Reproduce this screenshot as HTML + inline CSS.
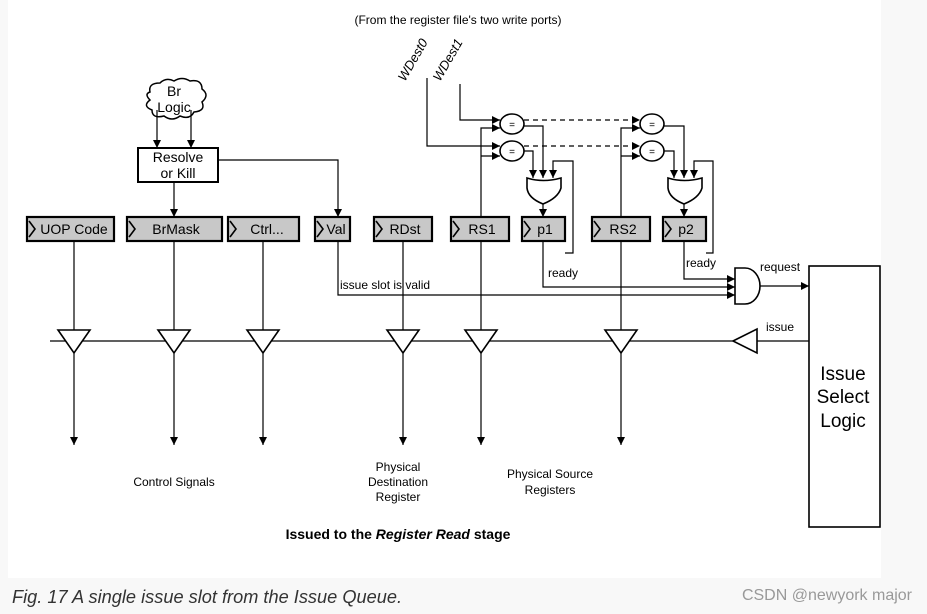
<!DOCTYPE html>
<html><head><style>
html,body{margin:0;padding:0;background:#f8f8f8;width:927px;height:614px;overflow:hidden}
svg{display:block}
text{font-family:"Liberation Sans",sans-serif;fill:#000}
</style></head><body>
<svg width="927" height="614" viewBox="0 0 927 614" xmlns="http://www.w3.org/2000/svg">
<defs>
<marker id="a" viewBox="0 0 10 10" refX="10" refY="5" markerWidth="8" markerHeight="8" orient="auto" markerUnits="userSpaceOnUse"><path d="M0,0L10,5L0,10z" fill="#000"/></marker>
</defs>
<rect x="8" y="0" width="873" height="578" fill="#fff"/>
<g stroke="#000" fill="none" stroke-width="1.2">
<!-- cloud -->
<path d="M150,92 q-2,-9 10,-9 q6,-6 14,-2 q8,-5 16,0 q12,-2 12,8 q8,6 0,13 q4,9 -8,10 q-4,8 -14,4 q-8,6 -16,0 q-12,3 -12,-6 q-10,-4 -2,-10 q-6,-6 0,-8z" stroke-width="1.5"/>
<line x1="157" y1="110" x2="157" y2="148" marker-end="url(#a)"/>
<line x1="191" y1="110" x2="191" y2="148" marker-end="url(#a)"/>
<rect x="138" y="148" width="80" height="34" stroke-width="2"/>
<line x1="174" y1="182" x2="174" y2="217" marker-end="url(#a)"/>
<polyline points="218,160 338,160 338,217" marker-end="url(#a)"/>
<!-- WDest lines -->
<polyline points="427,78 427,146 500,146" marker-end="url(#a)"/>
<polyline points="460,84 460,120 500,120" marker-end="url(#a)"/>
<polyline points="481,217 481,128 500,128" marker-end="url(#a)"/>
<polyline points="481,156 500,156" marker-end="url(#a)"/>
<polyline points="621,217 621,128 640,128" marker-end="url(#a)"/>
<polyline points="621,156 640,156" marker-end="url(#a)"/>
<line x1="524" y1="120" x2="640" y2="120" stroke-dasharray="5,4" marker-end="url(#a)"/>
<line x1="524" y1="146" x2="640" y2="146" stroke-dasharray="5,4" marker-end="url(#a)"/>
<ellipse cx="512" cy="124" rx="12" ry="10" stroke-width="1.6"/>
<ellipse cx="512" cy="151" rx="12" ry="10" stroke-width="1.6"/>
<ellipse cx="652" cy="124" rx="12" ry="10" stroke-width="1.6"/>
<ellipse cx="652" cy="151" rx="12" ry="10" stroke-width="1.6"/>
<!-- to OR -->
<polyline points="524,126 543,126 543,178" marker-end="url(#a)"/>
<polyline points="524,151 533,151 533,178" marker-end="url(#a)"/>
<polyline points="565,253 573,253 573,161 553,161 553,178" marker-end="url(#a)"/>
<polyline points="664,126 684,126 684,178" marker-end="url(#a)"/>
<polyline points="664,151 674,151 674,178" marker-end="url(#a)"/>
<polyline points="706,253 713,253 713,161 694,161 694,178" marker-end="url(#a)"/>
<path d="M527,178 Q543,183 561,178 L561,188 Q558,198 543,204 Q528,198 527,188 Z" stroke-width="1.6"/>
<path d="M668,178 Q684,183 702,178 L702,188 Q699,198 684,204 Q669,198 668,188 Z" stroke-width="1.6"/>
<line x1="543" y1="204" x2="543" y2="217" marker-end="url(#a)"/>
<line x1="684" y1="204" x2="684" y2="217" marker-end="url(#a)"/>
<!-- to AND -->
<polyline points="684,241 684,279 735,279" marker-end="url(#a)"/>
<polyline points="543,241 543,287 735,287" marker-end="url(#a)"/>
<polyline points="338,241 338,295 735,295" marker-end="url(#a)"/>
<path d="M735,268 L745,268 A15,18 0 0 1 745,304 L735,304 Z" stroke-width="1.6"/>
<line x1="760" y1="286" x2="809" y2="286" marker-end="url(#a)"/>
<rect x="809" y="266" width="71" height="261" stroke-width="1.6"/>
<!-- bus -->
<line x1="50" y1="341" x2="809" y2="341"/>
<path d="M733,341 L757,329 L757,353 Z" fill="#fff" stroke-width="1.6"/>
<g stroke-width="1.6" fill="#fff">
<path d="M58,330 L90,330 L74,353 Z"/>
<path d="M158,330 L190,330 L174,353 Z"/>
<path d="M247,330 L279,330 L263,353 Z"/>
<path d="M387,330 L419,330 L403,353 Z"/>
<path d="M465,330 L497,330 L481,353 Z"/>
<path d="M605,330 L637,330 L621,353 Z"/>
</g>
<line x1="74" y1="241" x2="74" y2="330"/><line x1="174" y1="241" x2="174" y2="330"/>
<line x1="263" y1="241" x2="263" y2="330"/><line x1="403" y1="241" x2="403" y2="330"/>
<line x1="481" y1="241" x2="481" y2="330"/><line x1="621" y1="241" x2="621" y2="330"/>
<line x1="74" y1="353" x2="74" y2="445" marker-end="url(#a)"/>
<line x1="174" y1="353" x2="174" y2="445" marker-end="url(#a)"/>
<line x1="263" y1="353" x2="263" y2="445" marker-end="url(#a)"/>
<line x1="403" y1="353" x2="403" y2="445" marker-end="url(#a)"/>
<line x1="481" y1="353" x2="481" y2="445" marker-end="url(#a)"/>
<line x1="621" y1="353" x2="621" y2="445" marker-end="url(#a)"/>
<!-- registers -->
<g fill="#c8c8c8" stroke-width="2.2">
<rect x="27" y="217" width="87" height="24"/><rect x="127" y="217" width="95" height="24"/>
<rect x="228" y="217" width="71" height="24"/><rect x="315" y="217" width="35" height="24"/>
<rect x="374" y="217" width="58" height="24"/><rect x="451" y="217" width="58" height="24"/>
<rect x="522" y="217" width="43" height="24"/><rect x="592" y="217" width="58" height="24"/>
<rect x="663" y="217" width="43" height="24"/>
</g>
<g stroke-width="1.6">
<polyline points="29,221 35,229 29,237"/><polyline points="129,221 135,229 129,237"/>
<polyline points="230,221 236,229 230,237"/><polyline points="317,221 323,229 317,237"/>
<polyline points="376,221 382,229 376,237"/><polyline points="453,221 459,229 453,237"/>
<polyline points="524,221 530,229 524,237"/><polyline points="594,221 600,229 594,237"/>
<polyline points="665,221 671,229 665,237"/>
</g>
</g>
<g font-size="14" text-anchor="middle">
<text x="74" y="234">UOP Code</text><text x="176" y="234">BrMask</text>
<text x="267" y="234">Ctrl...</text><text x="336" y="234">Val</text>
<text x="405" y="234">RDst</text><text x="482" y="234">RS1</text>
<text x="545" y="234">p1</text><text x="623" y="234">RS2</text><text x="686" y="234">p2</text>
<text x="174" y="96">Br</text><text x="174" y="112">Logic</text>
<text x="178" y="162">Resolve</text><text x="178" y="178">or Kill</text>
</g>
<g font-size="10" text-anchor="middle">
<text x="512" y="128">=</text><text x="512" y="155">=</text>
<text x="652" y="128">=</text><text x="652" y="155">=</text>
</g>
<g font-size="12">
<text x="458" y="24" text-anchor="middle">(From the register file's two write ports)</text>
<text x="0" y="0" font-style="italic" font-size="13" transform="translate(405,82) rotate(-60)">WDest0</text>
<text x="0" y="0" font-style="italic" font-size="13" transform="translate(440,82) rotate(-60)">WDest1</text>
<text x="548" y="277">ready</text>
<text x="686" y="267">ready</text>
<text x="340" y="289">issue slot is valid</text>
<text x="760" y="271">request</text>
<text x="766" y="331">issue</text>
<text x="174" y="486" text-anchor="middle">Control Signals</text>
<text x="398" y="471" text-anchor="middle">Physical</text>
<text x="398" y="486" text-anchor="middle">Destination</text>
<text x="398" y="501" text-anchor="middle">Register</text>
<text x="550" y="478" text-anchor="middle">Physical Source</text>
<text x="550" y="494" text-anchor="middle">Registers</text>
</g>
<text x="398" y="539" font-size="14" font-weight="bold" text-anchor="middle">Issued to the <tspan font-style="italic">Register Read</tspan> stage</text>
<g font-size="19" text-anchor="middle">
<text x="843" y="380">Issue</text><text x="843" y="403">Select</text><text x="843" y="427">Logic</text>
</g>
<text x="12" y="603" font-size="18" font-style="italic" style="fill:#333" textLength="390" lengthAdjust="spacingAndGlyphs">Fig. 17 A single issue slot from the Issue Queue.</text>
<text x="912" y="600" font-size="16" text-anchor="end" style="fill:#999">CSDN @newyork major</text>
</svg>
</body></html>
